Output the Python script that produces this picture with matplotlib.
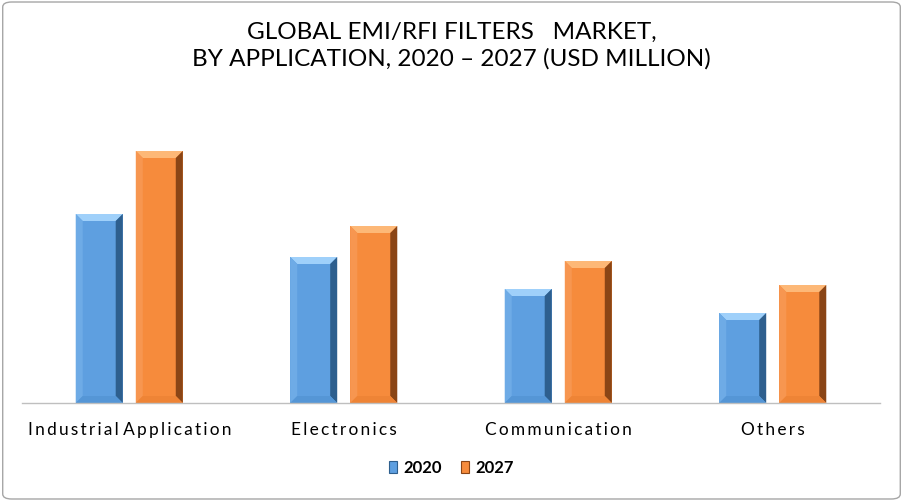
import numpy as np
import matplotlib
matplotlib.use('Agg')
import matplotlib.pyplot as plt
import matplotlib.patches as patches
from matplotlib.patches import Polygon, FancyBboxPatch

categories = ['Industrial Application', 'Electronics', 'Communication', 'Others']
years = ['2020', '2027']
values_2020 = [189, 146, 114, 90]
values_2027 = [252, 177, 142, 118]

# face, top, left, right, bottom shades
shades = {
    '2020': ['#5e9fe0', '#9fd0fa', '#6eabe6', '#2e5f8e', '#5596d6'],
    '2027': ['#f68b3c', '#fdb877', '#f79650', '#8a4516', '#ee8436'],
}

fig = plt.figure(figsize=(9.03, 5.01), dpi=100)
ax = fig.add_axes([22 / 903, 98 / 501, 858 / 903, 303 / 501])
ax.set_xlim(-0.5, 3.5)
ax.set_ylim(0, 303)

width = 0.219
offset = 0.14
bev_px = 7
px_x = (ax.get_xlim()[1] - ax.get_xlim()[0]) / 858.0
px_y = (ax.get_ylim()[1] - ax.get_ylim()[0]) / 303.0
bx = bev_px * px_x
by = bev_px * px_y

x = np.arange(len(categories))
for vals, yr, sign in [(values_2020, '2020', -1), (values_2027, '2027', 1)]:
    face, top, left, right, bot = shades[yr]
    for xi, v in zip(x, vals):
        x0 = xi + sign * offset - width / 2
        x1 = x0 + width
        ax.add_patch(patches.Rectangle((x0, 0), width, v, facecolor=face, edgecolor='none'))
        ax.add_patch(Polygon([(x0, v), (x1, v), (x1 - bx, v - by), (x0 + bx, v - by)],
                             closed=True, facecolor=top, edgecolor='none'))
        ax.add_patch(Polygon([(x0, 0), (x0, v), (x0 + bx, v - by), (x0 + bx, by)],
                             closed=True, facecolor=left, edgecolor='none'))
        ax.add_patch(Polygon([(x1, 0), (x1, v), (x1 - bx, v - by), (x1 - bx, by)],
                             closed=True, facecolor=right, edgecolor='none'))
        ax.add_patch(Polygon([(x0, 0), (x1, 0), (x1 - bx, by), (x0 + bx, by)],
                             closed=True, facecolor=bot, edgecolor='none'))

for s in ['top', 'right', 'left']:
    ax.spines[s].set_visible(False)
ax.spines['bottom'].set_color('#bfbfbf')
ax.spines['bottom'].set_linewidth(1)
ax.set_yticks([])
ax.set_xticks(x)
# letter-spaced labels, as in the original
hs = '\u200a\u200a'
spaced = [' '.join(hs.join(w) for w in c.split(' ')) for c in categories]
ax.set_xticklabels(spaced, fontsize=12.4, family=['Lato', 'DejaVu Sans'])
ax.tick_params(axis='x', length=0, pad=14, colors='black')

fig.text(0.5, 0.957, 'GLOBAL EMI/RFI FILTERS   MARKET,\nBY APPLICATION, 2020 \u2013 2027 (USD MILLION)',
         ha='center', va='top', fontsize=17.5, family='Lato', linespacing=1.32)

handles = [patches.Patch(facecolor=shades[y][0], edgecolor=shades[y][3], linewidth=0.8) for y in years]
leg = fig.legend(handles, years, loc='center', bbox_to_anchor=(0.5, 1 - 468 / 501),
                 ncol=2, frameon=False, handlelength=0.5, handleheight=0.7,
                 handletextpad=0.4, columnspacing=1.1,
                 prop={'family': 'Lato', 'weight': 'bold', 'size': 12})

border = FancyBboxPatch((0.003, 0.004), 0.994, 0.992, boxstyle='round,pad=0,rounding_size=0.01',
                        transform=fig.transFigure, facecolor='none', edgecolor='#a6a6a6', linewidth=1)
fig.patches.append(border)

fig.savefig('out.png', dpi=100)
